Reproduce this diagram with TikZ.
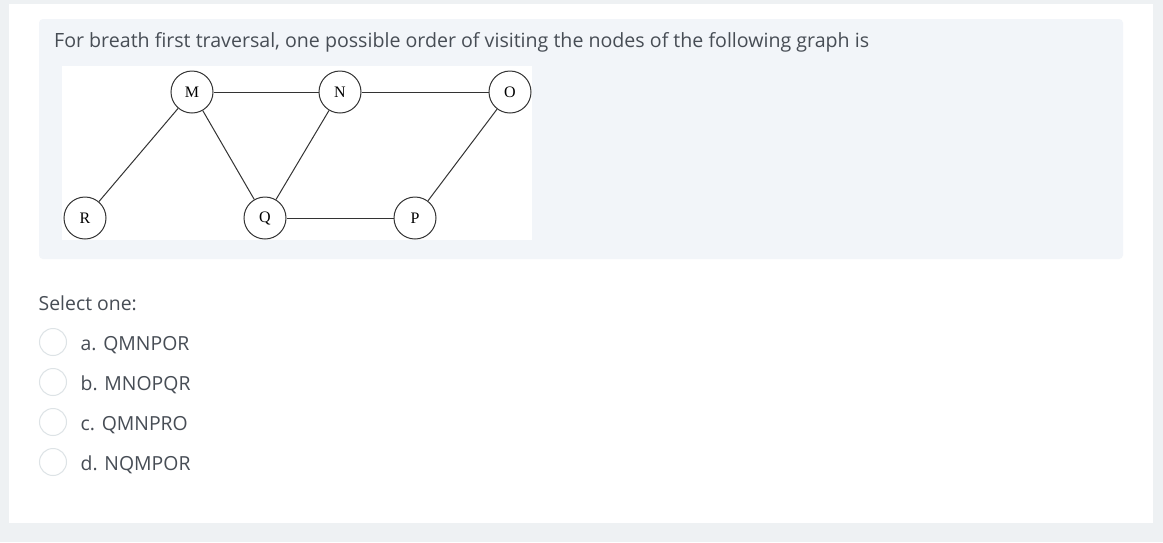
\documentclass[tikz,border=0pt]{standalone}
\usepackage{fontspec}
\setmainfont{Open Sans}
\newfontfamily\graphfont{Liberation Serif}
\definecolor{pagebg}{HTML}{EEF1F3}
\definecolor{panelbg}{HTML}{F2F5F9}
\definecolor{txt}{HTML}{474D55}
\definecolor{radio}{HTML}{DDE3E6}
\definecolor{gline}{HTML}{333333}
\tikzset{
  gnode/.style={circle, draw=gline, line width=1pt, fill=white, minimum size=42pt, inner sep=0pt,
    font=\graphfont\fontsize{16}{17}\selectfont, text=black},
  gedge/.style={draw=gline, line width=1pt},
  qtext/.style={anchor=base west, inner sep=0pt, text=txt, font=\fontsize{19.4}{23}\selectfont},
  titletext/.style={qtext, font=\fontsize{19.6}{23}\selectfont}
}
\tikzset{
  radiobtn/.style={circle, draw=radio, line width=1pt, fill=white, minimum size=27pt, inner sep=0pt}
}
\begin{document}
\begin{tikzpicture}[x=1pt,y=-1pt]
\fill[pagebg] (0,0) rectangle (1163,542);
\useasboundingbox (0,0) rectangle (1163,542);
\fill[white] (9,4) rectangle (1153,523);
\fill[panelbg, rounded corners=4pt] (39,19) rectangle (1123,259);
\fill[white] (62,66) rectangle (532,240);
\node[titletext] (title) at (54,47.3) {For breath first traversal, one possible order of visiting the nodes of the following graph is};
% graph
\node[gnode] (M) at (192,92) {M};
\node[gnode] (N) at (340,92) {N};
\node[gnode] (O) at (510,92) {O};
\node[gnode] (R) at (85,218) {R};
\node[gnode] (Q) at (265,218) {Q};
\node[gnode] (P) at (415,218) {P};
\draw[gedge] (M) -- (N);
\draw[gedge] (N) -- (O);
\draw[gedge] (R) -- (M);
\draw[gedge] (M) -- (Q);
\draw[gedge] (N) -- (Q);
\draw[gedge] (Q) -- (P);
\draw[gedge] (O) -- (P);
% answers
\node[qtext] (sel) at (38.5,310.5) {Select one:};
\node[radiobtn] (ra) at (53,342) {};
\node[radiobtn] (rb) at (53,382) {};
\node[radiobtn] (rc) at (53,422) {};
\node[radiobtn] (rd) at (53,462) {};
\node[qtext] (oa) at (80.5,350.5) {a. QMNPOR};
\node[qtext] (ob) at (80.5,390.5) {b. MNOPQR};
\node[qtext] (oc) at (80.5,430.5) {c. QMNPRO};
\node[qtext] (od) at (80.5,470.5) {d. NQMPOR};
\end{tikzpicture}
\end{document}
